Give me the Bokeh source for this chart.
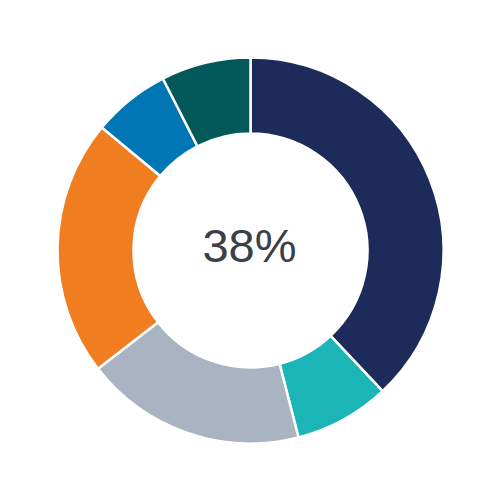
import math
from bokeh.plotting import figure
from bokeh.models import Range1d, ColumnDataSource
from bokeh.core.properties import value
from bokeh.embed import file_html
from bokeh.resources import INLINE

categories = ["A", "B", "C", "D", "E", "F"]
shares = [38, 8, 18.5, 21.5, 6.5, 7.5]
colors = ["#1d2b5b", "#1bb5b8", "#a9b3c1", "#f07e21", "#0076b5", "#03585a"]
center_label = "38%"

total = sum(shares)
starts, ends = [], []
a = math.pi / 2
for s in shares:
    starts.append(a)
    a -= s / total * 2 * math.pi
    ends.append(a)

src = ColumnDataSource(dict(cat=categories, start=starts, end=ends, color=colors))

p = figure(width=492, height=492, output_backend="svg", toolbar_location=None,
           x_range=Range1d(-250, 242), y_range=Range1d(-242, 250), min_border=0)
p.axis.visible = False
p.grid.visible = False
p.outline_line_color = None
p.background_fill_color = "white"
p.border_fill_color = "white"

p.annular_wedge(x=0, y=0, inner_radius=117, outer_radius=193,
                start_angle="start", end_angle="end", direction="clock",
                fill_color="color", line_color="white", line_width=2.5, source=src)

p.text(x=[-1], y=[5], text=[center_label], text_align="center",
       text_baseline="alphabetic", text_font=value("Liberation Sans"),
       text_font_size="47px", text_color="#3b4046")

open("out.html", "w").write(file_html(p, INLINE))
